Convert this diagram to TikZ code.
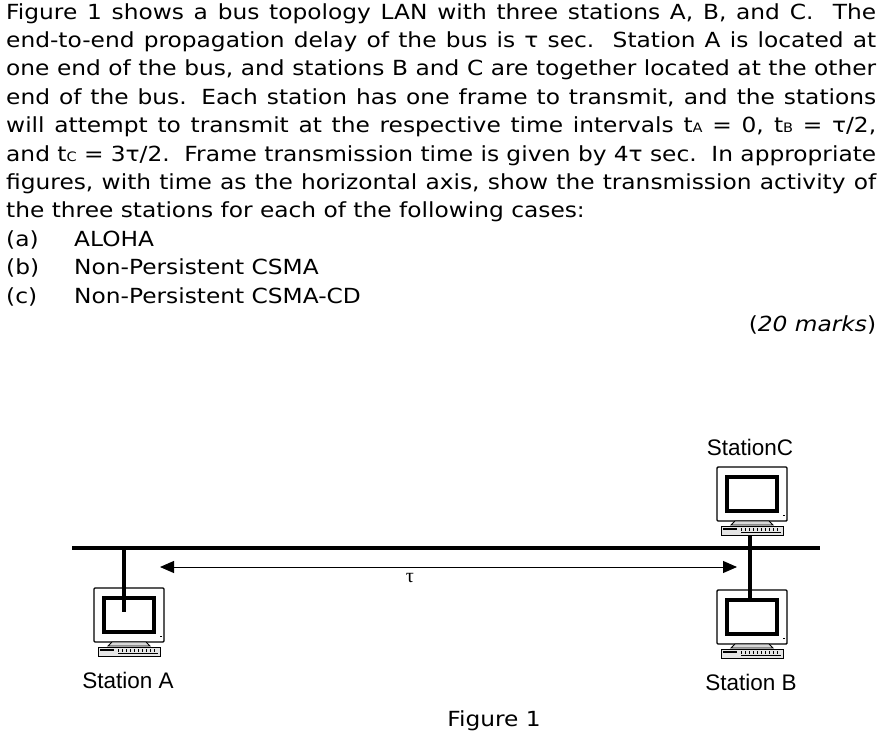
\documentclass[tikz,border=0pt]{standalone}
\usepackage{fontspec}
\setmainfont{DejaVu Sans}[FakeStretch=1.12]
\newfontfamily\labfont{Liberation Sans}
\newfontfamily\serfont{Liberation Serif}
\usetikzlibrary{arrows.meta}
\newcommand{\subl}[1]{{\fontsize{13}{14}\selectfont #1}}
\begin{document}
\begin{tikzpicture}[x=1pt,y=-1pt,
  lbl/.style={font=\labfont\fontsize{22.5}{24}\selectfont,inner sep=0pt},
  bus/.style={line width=4.5pt},
  pics/computer/.style={code={
    \draw[line width=1.4pt,rounded corners=1pt] (0,0) rectangle (70,54);
    \draw[line width=4.5pt] (10,10) rectangle (60,44);
    \draw[line width=0.8pt] (66,48) -- (68,48);
    \draw[line width=0.9pt,fill=gray!30] (18,54) -- (52,54) -- (56,58) -- (14,58) -- cycle;
    \draw[line width=1pt,fill=gray!20] (4,59) rectangle (66,68);
    \foreach \i in {0,...,9}{\draw[line width=0.5pt] (24+4*\i,61) -- (24+4*\i,64);}
    \draw[line width=0.6pt] (24,65) -- (64,65);
    \fill (6,61) rectangle (20,63);
  }}]
\useasboundingbox (0,0) rectangle (884,739);
\node[anchor=north west,inner sep=0pt,text width=870pt,align=justify,
  font=\fontsize{20.8}{28.4}\selectfont] (txt) at (6,3) {%
Figure 1 shows a bus topology LAN with three stations A, B, and C.\ \ The\linebreak
end-to-end propagation delay of the bus is τ sec.\ \ Station A is located at\linebreak
one end of the bus, and stations B and C are together located at the other\linebreak
end of the bus. Each station has one frame to transmit, and the stations\linebreak
will attempt to transmit at the respective time intervals t\subl{A} = 0, t\subl{B} = τ/2,\linebreak
and t\subl{C} = 3τ/2.\ \ Frame transmission time is given by 4τ sec.\ \ In appropriate\linebreak
figures, with time as the horizontal axis, show the transmission activity of\linebreak
the three stations for each of the following cases:\par
\makebox[68pt][l]{(a)}ALOHA\par
\makebox[68pt][l]{(b)}Non-Persistent CSMA\par
\makebox[68pt][l]{(c)}Non-Persistent CSMA-CD\par
\hfill(\textit{20 marks})};
\draw[bus] (72,548) coordinate (b0) -- (820,548) coordinate (b1);
\pic at (94,588) {computer};
\pic at (717,467) {computer};
\pic at (717,590) {computer};
\coordinate (ta) at (124,548);
\coordinate (tai) at (124,612);
\coordinate (tc) at (750,535);
\coordinate (tb) at (750,600);
\draw[bus] (ta) -- (tai);
\draw[bus] (tc) -- (tb);
\coordinate (al) at (160,567);
\coordinate (ar) at (737,567);
\draw[line width=1pt,{Triangle[length=14pt,width=12pt]}-{Triangle[length=14pt,width=12pt]}] (al) -- (ar);
\node[font=\serfont\fontsize{20}{22}\selectfont] (tau) at (410,578) {τ};
\node[lbl] (sc) at (750,447) {StationC};
\node[lbl] (sa) at (128,680) {Station A};
\node[lbl] (sb) at (751,682) {Station B};
\node[inner sep=0pt,font=\fontsize{20.8}{22}\selectfont] (fig) at (494,721) {Figure 1};
\end{tikzpicture}
\end{document}
